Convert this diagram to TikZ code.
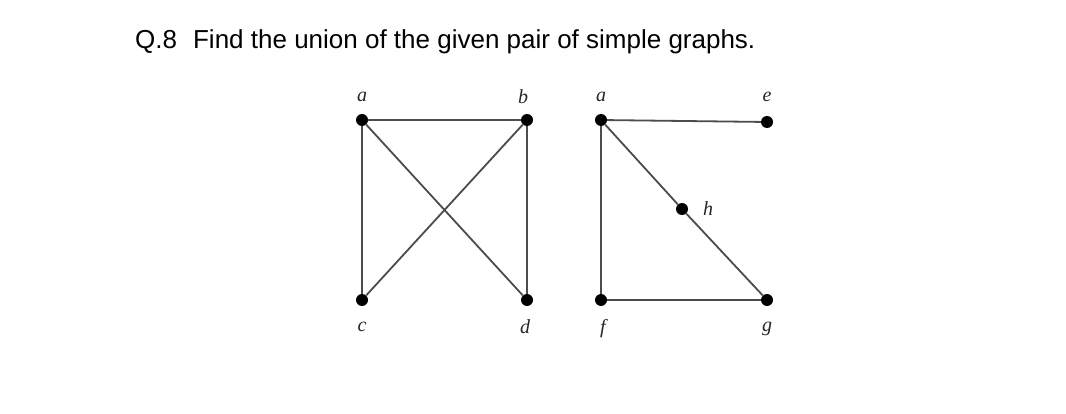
\documentclass[tikz,border=0pt]{standalone}
\usepackage{fontspec}
\setmainfont{Liberation Serif}
\newfontfamily\arial{Liberation Sans}
\begin{document}
\begin{tikzpicture}[x=1pt,y=-1pt,
  vtx/.style={circle,fill=black,inner sep=0pt,minimum size=12pt},
  edge/.style={draw=black!70,line width=1.8pt},
  lbl/.style={font=\fontsize{20}{20}\selectfont\itshape,text=black!85}]
\useasboundingbox[fill=white] (0,0) rectangle (1066,414);
\node[anchor=west,font=\arial\fontsize{26}{26}\selectfont,inner sep=0pt] (t) at (135,42) {Q.8\hspace{16pt}Find the union of the given pair of simple graphs.};
\node[vtx] (a) at (362,120) {};
\node[vtx] (b) at (527,120) {};
\node[vtx] (c) at (362,300) {};
\node[vtx] (d) at (527,300) {};
\node[vtx] (a2) at (601,120) {};
\node[vtx] (e) at (767,122) {};
\node[vtx] (h) at (682,209) {};
\node[vtx] (f) at (601,300) {};
\node[vtx] (g) at (767,300) {};
\draw[edge] (a)--(b) (a)--(c) (b)--(d) (a)--(d) (b)--(c);
\draw[edge] (a2)--(e) (a2)--(f) (a2)--(h) (h)--(g) (f)--(g);
\node[lbl] (la) at (362,97) {a};
\node[lbl] (lb) at (523,97) {b};
\node[lbl] (lc) at (362,327) {c};
\node[lbl] (ld) at (525,327) {d};
\node[lbl] (la2) at (601,97) {a};
\node[lbl] (le) at (767,97) {e};
\node[lbl] (lh) at (708,209) {h};
\node[lbl] (lf) at (603,329) {f};
\node[lbl] (lg) at (767,329) {g};
\end{tikzpicture}
\end{document}
